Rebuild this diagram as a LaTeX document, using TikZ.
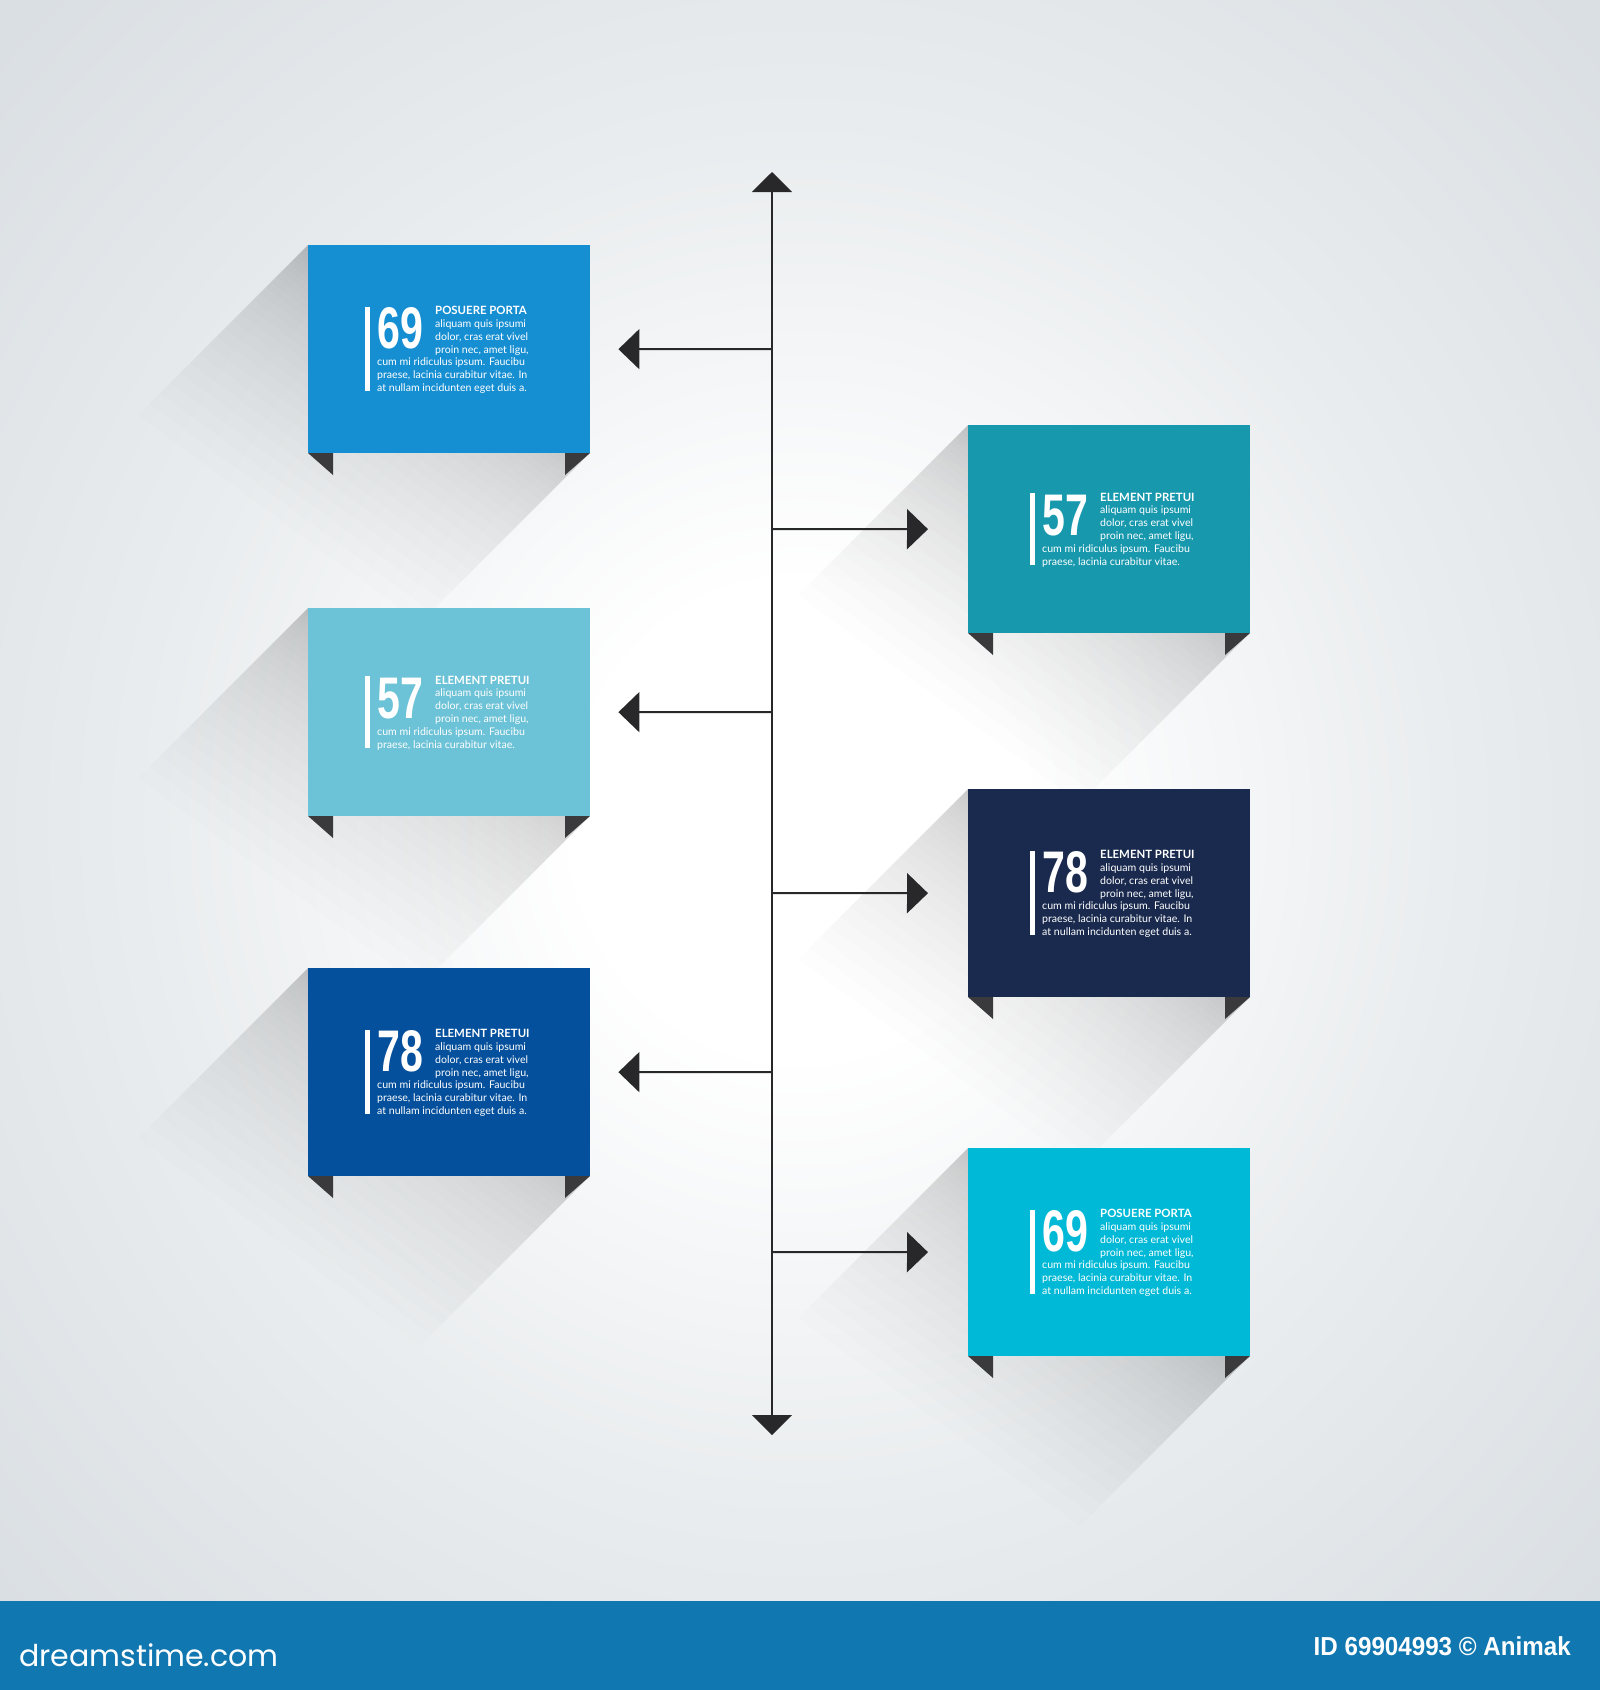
\documentclass[tikz,border=0pt]{standalone}
\usepackage{fontspec}
\setmainfont{Lato}
\newfontfamily\numfont[FakeStretch=0.7]{Liberation Sans}
\newfontfamily\creditfont[FakeStretch=0.93]{Liberation Sans}
\newfontfamily\logofont{Poppins}
\usetikzlibrary{arrows.meta}
\definecolor{bgedge}{RGB}{218,223,227}
\definecolor{bgmid}{RGB}{234,237,239}
\definecolor{tabgray}{RGB}{58,58,60}
\definecolor{lineblack}{RGB}{40,40,42}
\definecolor{cL1}{RGB}{22,142,210}
\definecolor{cL2}{RGB}{108,194,214}
\definecolor{cL3}{RGB}{5,80,156}
\definecolor{cR1}{RGB}{23,152,173}
\definecolor{cR2}{RGB}{26,42,78}
\definecolor{cR3}{RGB}{0,185,214}
\definecolor{barblue}{RGB}{16,119,176}
\pgfdeclareradialshading{bgshade}{\pgfpoint{0bp}{0bp}}{color(0bp)=(white); color(7bp)=(white); color(20bp)=(bgmid); color(34bp)=(bgedge); color(80bp)=(bgedge)}
\tikzset{
  boxnode/.style={minimum width=282pt, minimum height=208pt, inner sep=0pt, anchor=north west, draw=none},
  tltab/.style={fill=tabgray},
  tlbar/.style={fill=white},
  tlline/.style={line width=2pt, draw=lineblack},
  tlarrow/.style={tlline, -{Triangle[length=21pt,width=40pt]}},
  tltext/.style={inner sep=0pt, anchor=base west, text=white, font=\fontsize{10.6}{12}\selectfont},
  tltitle/.style={tltext, font=\fontsize{11.4}{12}\selectfont\bfseries},
  tlnum/.style={inner sep=0pt, anchor=base west, text=white, font=\numfont\bfseries\fontsize{58.7}{60}\selectfont},
}
% shadow: #1 x0, #2 y0
\newcommand\tlshadow[2]{%
  \foreach \k in {1,...,30}{%
    \pgfmathsetmacro\tlL{170*(\k/30)^2}%
    \fill[black, opacity=0.008] (#1,#2) -- (#1-\tlL,#2+\tlL) -- (#1+282-\tlL,#2+208+\tlL) -- (#1+282,#2+208) -- cycle;
  }%
}
% box: #1 name, #2 x0, #3 y0, #4 colour, #5 number, #6 title, #7 lines (5 or 6), #8 dx
\newcommand\tlbox[8]{%
  \node[boxnode, fill=#4] (#1) at (#2,#3) {};
  \fill[tltab] (#2,#3+208) -- (#2+25,#3+208) -- (#2+25,#3+230) -- cycle;
  \fill[tltab] (#2+257,#3+208) -- (#2+282,#3+208) -- (#2+257,#3+230) -- cycle;
  \pgfmathsetmacro\tlH{8+#7*12.8}%
  \pgfmathsetmacro\tlT{#3+104-\tlH/2}%
  \pgfmathsetmacro\tlA{#2+#8}%
  \fill[tlbar] (\tlA,\tlT) rectangle (\tlA+5,\tlT+\tlH);
  \node[tlnum] (#1-num) at (\tlA+12,\tlT+42) {#5};
  \node[tltitle] (#1-title) at (\tlA+70,\tlT+8) {#6};
  \node[tltext] (#1-l1) at (\tlA+70,\tlT+8+12.8) {aliquam quis ipsumi};
  \node[tltext] (#1-l2) at (\tlA+70,\tlT+8+25.6) {dolor, cras erat vivel};
  \node[tltext] (#1-l3) at (\tlA+70,\tlT+8+38.4) {proin nec, amet ligu,};
  \node[tltext] (#1-l4) at (\tlA+12,\tlT+8+51.2) {cum mi ridiculus ipsum. Faucibu};
  \ifnum#7=6
    \node[tltext] (#1-l5) at (\tlA+12,\tlT+8+64) {praese, lacinia curabitur vitae. In};
    \node[tltext] (#1-l6) at (\tlA+12,\tlT+8+76.8) {at nullam incidunten eget duis a.};
  \else
    \node[tltext] (#1-l5) at (\tlA+12,\tlT+8+64) {praese, lacinia curabitur vitae.};
  \fi
}
\begin{document}
\begin{tikzpicture}[x=1pt,y=-1pt]
\useasboundingbox (0,0) rectangle (1600,1690);
\begin{scope}
\clip (0,0) rectangle (1600,1601);
\shade[shading=bgshade] (0,-20) rectangle (1600,1660);
\end{scope}
% shadows
\tlshadow{308}{245}
\tlshadow{308}{608}
\tlshadow{308}{968}
\tlshadow{968}{425}
\tlshadow{968}{789}
\tlshadow{968}{1148}
% boxes
\tlbox{L1}{308}{245}{cL1}{69}{POSUERE PORTA}{6}{57}
\tlbox{L2}{308}{608}{cL2}{57}{ELEMENT PRETUI}{5}{57}
\tlbox{L3}{308}{968}{cL3}{78}{ELEMENT PRETUI}{6}{57}
\tlbox{R1}{968}{425}{cR1}{57}{ELEMENT PRETUI}{5}{62}
\tlbox{R2}{968}{789}{cR2}{78}{ELEMENT PRETUI}{6}{62}
\tlbox{R3}{968}{1148}{cR3}{69}{POSUERE PORTA}{6}{62}
% timeline
\coordinate (t-top) at (772,172);
\coordinate (t-bot) at (772,1435);
\draw[tlline, {Triangle[length=20pt,width=40pt]}-{Triangle[length=20pt,width=40pt]}] (t-top) -- (t-bot);
\coordinate (j-L1) at (772,349);
\coordinate (j-L2) at (772,712);
\coordinate (j-L3) at (772,1072);
\coordinate (j-R1) at (772,529);
\coordinate (j-R2) at (772,893);
\coordinate (j-R3) at (772,1252);
\draw[tlarrow, shorten >=28pt] (j-L1) -- (L1.east);
\draw[tlarrow, shorten >=28pt] (j-L2) -- (L2.east);
\draw[tlarrow, shorten >=28pt] (j-L3) -- (L3.east);
\draw[tlarrow, shorten >=40pt] (j-R1) -- (R1.west);
\draw[tlarrow, shorten >=40pt] (j-R2) -- (R2.west);
\draw[tlarrow, shorten >=40pt] (j-R3) -- (R3.west);
% bottom bar
\fill[barblue] (0,1601) rectangle (1600,1690);
\node[inner sep=0pt, anchor=base west, text=white, font=\logofont\fontsize{30}{32}\selectfont] (logo) at (19,1666) {dreamstime.com};
\node[inner sep=0pt, anchor=base east, text=white, font=\creditfont\bfseries\fontsize{26}{28}\selectfont] (credit) at (1571,1655) {ID 69904993 © Animak};
\end{tikzpicture}
\end{document}
